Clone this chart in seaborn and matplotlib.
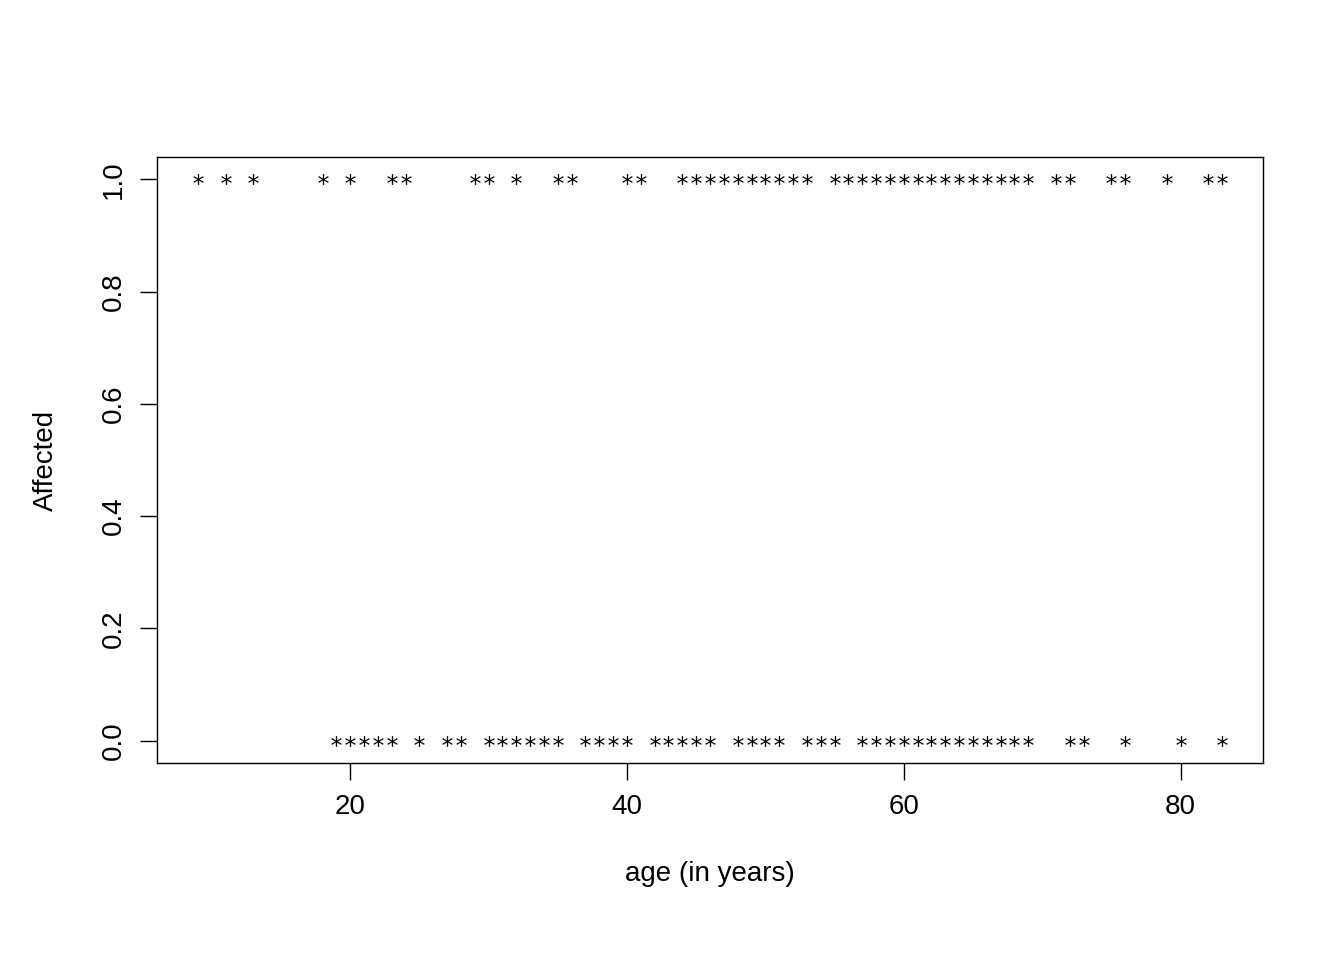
import matplotlib
matplotlib.use("Agg")
import matplotlib.pyplot as plt
import seaborn as sns
import pandas as pd

# ages of affected (1) and unaffected (0) subjects
age_affected = [9, 11, 13, 18, 20, 23, 24, 29, 30, 32, 35, 36, 40, 41,
                44, 45, 46, 47, 48, 49, 50, 51, 52, 53,
                55, 56, 57, 58, 59, 60, 61, 62, 63, 64, 65, 66, 67, 68, 69,
                71, 72, 75, 76, 79, 82, 83]
age_unaffected = [19, 20, 21, 22, 23, 25, 27, 28, 30, 31, 32, 33, 34, 35,
                  37, 38, 39, 40, 42, 43, 44, 45, 46, 48, 49, 50, 51,
                  53, 54, 55, 57, 58, 59, 60, 61, 62, 63, 64, 65, 66, 67, 68, 69,
                  72, 73, 76, 80, 83]

df = pd.DataFrame({
    "age": age_affected + age_unaffected,
    "affected": [1] * len(age_affected) + [0] * len(age_unaffected),
})

plt.rcParams["font.family"] = "Liberation Sans"
fig = plt.figure(figsize=(13.44, 9.6), dpi=100)
ax = fig.add_axes([157 / 1344, 1 - 763 / 960, (1263 - 157) / 1344, (763 - 157) / 960])

sns.scatterplot(data=df, x="age", y="affected", marker="$*$", s=60,
                color="black", linewidth=0, ax=ax)

xmin, xmax = df["age"].min(), df["age"].max()
pad = (xmax - xmin) * 0.04
ax.set_xlim(xmin - pad, xmax + pad)
ax.set_ylim(-0.04, 1.04)
ax.set_xticks([20, 40, 60, 80])
ax.set_yticks([0.0, 0.2, 0.4, 0.6, 0.8, 1.0])
ax.set_yticklabels(["0.0", "0.2", "0.4", "0.6", "0.8", "1.0"], rotation=90, va="center")
ax.tick_params(labelsize=20, length=12, width=1, pad=10)
ax.set_xlabel("age (in years)", fontsize=20, labelpad=30)
ax.set_ylabel("Affected", fontsize=20, labelpad=30)
for s in ax.spines.values():
    s.set_linewidth(1)
    s.set_color("black")

fig.savefig("out.png", dpi=100)
